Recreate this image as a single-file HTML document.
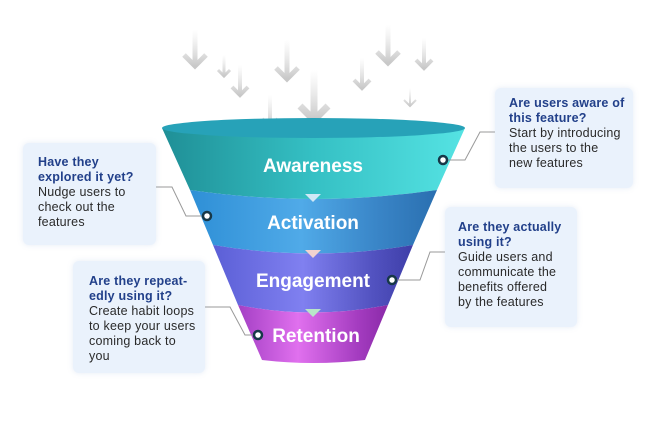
<!DOCTYPE html>
<html><head><meta charset="utf-8"><style>
body{margin:0;background:#fff;width:650px;height:439px;overflow:hidden;font-family:"Liberation Sans",sans-serif;}
.box{position:absolute;background:#eaf2fc;border-radius:6px;box-shadow:0 0 6px rgba(150,180,220,.25);font-size:12.5px;line-height:15px;color:#2a2a2a;box-sizing:border-box;white-space:nowrap;letter-spacing:0.2px;}
.box b{color:#22408a;display:block;}
</style></head><body>
<svg width="650" height="439" style="position:absolute;left:0;top:0">
<defs>
<linearGradient id="ar" x1="0" y1="0" x2="0" y2="1"><stop offset="0" stop-color="#ccc" stop-opacity="0"/><stop offset="1" stop-color="#b0b0b0" stop-opacity=".7"/></linearGradient>
<linearGradient id="g1" x1="0" x2="1"><stop offset="0" stop-color="#1f8f96"/><stop offset=".5" stop-color="#35c0c4"/><stop offset="1" stop-color="#55e3e3"/></linearGradient>
<linearGradient id="g2" x1="0" x2="1"><stop offset="0" stop-color="#2e8fd6"/><stop offset=".45" stop-color="#50aae8"/><stop offset=".75" stop-color="#3a86c8"/><stop offset="1" stop-color="#2a6fb0"/></linearGradient>
<linearGradient id="g3" x1="0" x2="1"><stop offset="0" stop-color="#5b5fd6"/><stop offset=".45" stop-color="#8080f0"/><stop offset=".8" stop-color="#5252c0"/><stop offset="1" stop-color="#3e3ea8"/></linearGradient>
<linearGradient id="g4" x1="0" x2="1"><stop offset="0" stop-color="#a33fc4"/><stop offset=".4" stop-color="#e070ee"/><stop offset=".8" stop-color="#a43cc0"/><stop offset="1" stop-color="#8a2aa8"/></linearGradient>
</defs>
<g fill="none" stroke="url(#ar)" stroke-width="5">
<path d="M195 30V66M184 55l11 11 11-11"/>
<path d="M224 55V76M218 70l6 6 6-6" stroke-width="3"/>
<path d="M240 65V95M232 87l8 8 8-8" stroke-width="4"/>
<path d="M287 40V79M276 68l11 11 11-11"/>
<path d="M314 70V120M300 106l14 14 14-14" stroke-width="7"/>
<path d="M270 95V127M262 119l8 8 8-8" stroke-width="4"/>
<path d="M362 58V88M354 80l8 8 8-8" stroke-width="4"/>
<path d="M388 25V63M377 52l11 11 11-11"/>
<path d="M424 38V68M416 60l8 8 8-8" stroke-width="4"/>
<path d="M410 88V106M404 100l6 6 6-6" stroke-width="2"/>
</g>
<path d="M162 128 L190 190 Q313 208 437 190 L465 128 Z" fill="url(#g1)"/>
<path d="M190 190 Q313 208 437 190 L413 245 Q313 262 213 245 Z" fill="url(#g2)"/>
<path d="M213 245 Q313 262 413 245 L388 305 Q313 320 238 305 Z" fill="url(#g3)"/>
<path d="M238 305 Q313 320 388 305 L365 360 Q313 366 262 360 Z" fill="url(#g4)"/>
<ellipse cx="313.5" cy="128" rx="151.5" ry="10" fill="#27a2b8"/>
<path d="M305 194h16l-8 8z" fill="#cfe8f6"/>
<path d="M305 250h16l-8 8z" fill="#f2d2d0"/>
<path d="M305 309h16l-8 8z" fill="#b8e6c8"/>
<g fill="#fff" font-weight="bold" font-size="19" text-anchor="middle" font-family="Liberation Sans,sans-serif">
<text x="313" y="172">Awareness</text>
<text x="313" y="229">Activation</text>
<text x="313" y="287">Engagement</text>
<text x="316" y="342">Retention</text>
</g>
<g fill="none" stroke="#999" stroke-width="1">
<path d="M443 160H465L480 132H495"/>
<path d="M155 187H172L186 216H207"/>
<path d="M392 280H420L430 252H445"/>
<path d="M205 307H230L245 335H258"/>
</g>
<g fill="#fff" stroke="#173848" stroke-width="2.5">
<circle cx="443" cy="160" r="4"/><circle cx="207" cy="216" r="4"/><circle cx="392" cy="280" r="4"/><circle cx="258" cy="335" r="4"/>
</g>
</svg>
<div class="box" style="left:495px;top:88px;width:138px;height:100px;padding:8px 0 0 14px"><b>Are users aware of<br>this feature?</b>Start by introducing<br>the users to the<br>new features</div>
<div class="box" style="left:23px;top:143px;width:133px;height:102px;padding:12px 0 0 15px"><b>Have they<br>explored it yet?</b>Nudge users to<br>check out the<br>features</div>
<div class="box" style="left:445px;top:207px;width:132px;height:120px;padding:13px 0 0 13px"><b>Are they actually<br>using it?</b>Guide users and<br>communicate the<br>benefits offered<br>by the features</div>
<div class="box" style="left:73px;top:261px;width:132px;height:112px;padding:13px 0 0 16px"><b>Are they repeat-<br>edly using it?</b>Create habit loops<br>to keep your users<br>coming back to<br>you</div>
</body></html>
